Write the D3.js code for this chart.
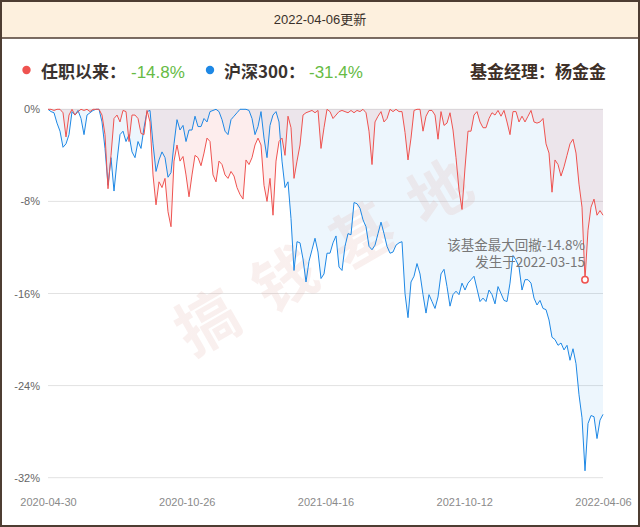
<!DOCTYPE html>
<html><head><meta charset="utf-8">
<script src="https://cdn.jsdelivr.net/npm/d3@7"></script>
<style>html,body{margin:0;padding:0;background:#fff;}svg{display:block;}</style>
</head><body>
<script>
// ---------- data ----------
const updateDate = "2022-04-06";
const managerLabel = "基金经理：杨金金";
const seriesNames = ["任职以来：", "沪深300："];
const xTickLabels = ["2020-04-30", "2020-10-26", "2021-04-16", "2021-10-12", "2022-04-06"];
const yTickValues = [0, -8, -16, -24, -32];
const maxDrawdownDate = "2022-03-15";
const watermarkChars = ["搞", "钱", "基", "地"];

// fund drawdown since manager took office (%), sampled evenly in time
const fundDrawdown = [
  0, 0, -0.1, 0, 0, -0.3, -2.4, -0.5, 0, -0.5,
  -0.2, 0, -0.1, 0, -0.2, 0, 0, 0, -0.5, -2.2,
  -6.9, -4.0, -0.8, -0.5, -1.1, -0.1, -0.2, -2.8, -0.5, -0.5,
  -0.8, -2.1, -2.2, -0.1, -1.1, -5.7, -8.3, -6.3, -6.8, -6.0,
  -8.9, -10.2, -4.5, -3.1, -4.5, -4.1, -5.7, -7.6, -5.7, -4.0,
  -4.2, -4.9, -3.8, -2.5, -2.8, -5.7, -6.3, -4.5, -4.8, -5.7,
  -6.0, -5.4, -5.8, -6.8, -7.4, -7.8, -4.4, -4.8, -4.2, -3.1,
  -2.5, -3.1, -6.6, -8.0, -6.0, -9.2, -4.5, -2.8, -2.5, -4.0,
  -0.6, -1.6, -6.0, -4.5, -3.1, -0.5, -0.3, -0.2, -0.1, -0.3,
  -0.1, -3.4, -1.6, 0, -0.2, -0.8, -0.5, -0.2, -0.1, -0.2,
  -0.3, -0.1, -0.3, -0.1, -0.2, 0, -0.3, -1.9, -4.8, -1.1,
  -0.6, -0.2, -1.1, -0.8, 0, -0.2, 0, -0.2, -0.2, -2.0,
  -4.4, -2.5, -0.1, 0, 0, -1.9, -0.6, -0.1, -0.1, -0.5,
  -2.6, -0.2, -1.4, -1.2, -0.3, -1.8, -4.2, -7.0, -8.7, -5.1,
  -1.9, -1.9, -0.5, -0.2, -1.1, -1.6, -1.6, -0.8, -0.3, -0.5,
  -0.1, -0.6, -0.1, -1.1, -2.2, -0.2, -0.2, -1.1, -0.6, -1.1,
  -0.6, -0.1, -1.1, -1.2, -1.1, -0.8, -3.0, -3.8, -7.2, -4.4,
  -4.8, -5.8, -5.0, -4.0, -3.0, -2.6, -3.8, -6.5, -8.5, -14.8,
  -10.5, -8.5, -7.8, -9.2, -8.8, -9.2
];

// CSI 300 drawdown over the same period (%)
const csi300Drawdown = [
  0, -0.2, -0.3, -1.2, -1.9, -3.3, -3.0, -2.2, -0.2, -0.5,
  -0.1, -0.8, -2.2, -0.5, -0.3, -0.1, 0, 0, -1.1, -3.4,
  -6.6, -4.2, -7.1, -4.5, -2.2, -1.9, -2.8, -2.2, -3.7, -4.2,
  -2.8, -3.4, -1.6, -0.2, -0.1, -3.0, -5.4, -4.4, -3.7, -4.2,
  -5.9, -5.5, -3.0, -0.9, -1.8, -1.4, -2.8, -1.8, -1.8, -0.6,
  -1.5, -1.5, -0.8, -1.1, -0.2, -0.1, 0, -0.2, -0.9, -1.9,
  -2.2, -0.9, -0.6, -0.3, 0, 0, 0, -0.1, -0.8, -2.2,
  -1.5, -0.2, -2.5, -4.2, -1.4, -0.5, -0.2, -1.1, -4.5, -6.8,
  -6.3, -9.5, -14.0, -11.5, -11.6, -13.0, -15.0, -13.2, -12.2, -11.2,
  -12.4, -14.7, -14.3, -12.5, -12.5, -11.6, -11.0, -13.7, -14.0, -11.9,
  -10.8, -10.9, -8.1, -8.2, -8.6, -9.6, -10.2, -11.9, -12.2, -11.8,
  -10.8, -9.8, -10.8, -11.9, -12.5, -12.4, -11.8, -11.6, -11.5, -16.0,
  -18.1, -15.0, -14.5, -13.4, -14.3, -16.1, -17.7, -16.1, -16.7, -17.3,
  -16.3, -14.3, -13.9, -15.4, -17.1, -16.1, -15.8, -16.1, -15.1, -15.7,
  -15.1, -14.8, -14.5, -15.6, -16.7, -16.4, -16.7, -15.7, -16.1, -16.9,
  -15.4, -16.0, -16.6, -16.7, -15.1, -12.7, -13.1, -13.7, -15.7, -14.8,
  -14.8, -15.1, -16.4, -17.0, -16.6, -17.3, -17.4, -18.3, -19.8, -20.0,
  -20.5, -20.3, -20.9, -20.5, -21.8, -20.8, -22.1, -24.8, -26.8, -31.4,
  -27.3, -26.6, -26.7, -28.6, -27.0, -26.5
];

// ---------- layout / style ----------
const W = 640, H = 527;
const plot = {left: 48, right: 603, top: 109.3, bottom: 477.7};
const RED = "#ef5350", BLUE = "#1e88e5", GREEN = "#66bb44";
const BORDER = "#4e3d32";
const CJK = "'Noto Sans CJK SC','Noto Sans',sans-serif";
const LAT = "'Liberation Sans','Noto Sans CJK SC',sans-serif";

const svg = d3.select("body").append("svg").attr("width", W).attr("height", H);

svg.append("rect").attr("width", W).attr("height", H).attr("fill", "#fff");
// header
svg.append("rect").attr("x", 0).attr("y", 0).attr("width", W).attr("height", 38).attr("fill", "#fdf0de");
svg.append("line").attr("x1", 0).attr("x2", W).attr("y1", 38).attr("y2", 38).attr("stroke", BORDER).attr("stroke-width", 1.5);
svg.append("text").attr("x", W / 2).attr("y", 19).attr("dy", "0.35em").attr("text-anchor", "middle")
  .attr("font-family", LAT).attr("font-size", 13).attr("fill", "#3a302a").text(updateDate + "更新");

// scales
const n = fundDrawdown.length;
const x = d3.scaleLinear().domain([0, n - 1]).range([plot.left, plot.right]);
const y = d3.scaleLinear().domain([-32, 0]).range([plot.bottom, plot.top]);

// grid
const g = svg.append("g");
g.selectAll("line.grid").data(yTickValues).join("line")
  .attr("x1", plot.left).attr("x2", plot.right)
  .attr("y1", d => y(d)).attr("y2", d => y(d))
  .attr("stroke", "#e2e2e2").attr("stroke-width", 1);

// y axis labels
const yAxis = d3.axisLeft(y).tickValues(yTickValues).tickSize(0).tickPadding(0).tickFormat(d => d + "%");
const ya = svg.append("g").attr("transform", `translate(40,0)`).call(yAxis);
ya.select(".domain").remove();
ya.selectAll("text").attr("font-family", LAT).attr("font-size", 11).attr("fill", "#666");

// x axis labels
const tickIdx = xTickLabels.map((d, i) => i * (n - 1) / (xTickLabels.length - 1));
const xAxis = d3.axisBottom(x).tickValues(tickIdx).tickSize(0).tickPadding(0)
  .tickFormat((d, i) => xTickLabels[i]);
const xa = svg.append("g").attr("transform", `translate(0,498)`).call(xAxis);
xa.select(".domain").remove();
xa.selectAll("text").attr("font-family", LAT).attr("font-size", 11).attr("fill", "#8a8a8a");

// areas
const area = d3.area().x((d, i) => x(i)).y0(y(0)).y1(d => y(d));
svg.append("path").datum(csi300Drawdown).attr("d", area).attr("fill", BLUE).attr("fill-opacity", 0.08);
svg.append("path").datum(fundDrawdown).attr("d", area).attr("fill", RED).attr("fill-opacity", 0.1);

// watermark
const defs = svg.append("defs");
const grad = defs.append("linearGradient").attr("id", "wm").attr("gradientUnits", "userSpaceOnUse")
  .attr("x1", 170).attr("y1", 0).attr("x2", 480).attr("y2", 0);
grad.append("stop").attr("offset", 0).attr("stop-color", "#dca49c").attr("stop-opacity", 0.17);
grad.append("stop").attr("offset", 0.5).attr("stop-color", "#c8aca4").attr("stop-opacity", 0.16);
grad.append("stop").attr("offset", 1).attr("stop-color", "#9c9ca4").attr("stop-opacity", 0.16);
const wmStart = [208, 323], wmEnd = [440, 193];
svg.append("g").selectAll("text").data(watermarkChars).join("text")
  .attr("transform", (d, i) => {
    const t = i / (watermarkChars.length - 1);
    const cx = wmStart[0] + (wmEnd[0] - wmStart[0]) * t;
    const cy = wmStart[1] + (wmEnd[1] - wmStart[1]) * t;
    return `translate(${cx},${cy}) rotate(-30)`;
  })
  .attr("text-anchor", "middle").attr("dy", "0.35em")
  .attr("font-family", CJK).attr("font-weight", "bold").attr("font-size", 62)
  .attr("fill", "url(#wm)").text(d => d);

// lines
const line = d3.line().x((d, i) => x(i)).y(d => y(d));
svg.append("path").datum(csi300Drawdown).attr("d", line).attr("fill", "none").attr("stroke", BLUE).attr("stroke-width", 1).attr("stroke-linejoin", "round");
svg.append("path").datum(fundDrawdown).attr("d", line).attr("fill", "none").attr("stroke", RED).attr("stroke-width", 1).attr("stroke-linejoin", "round");

// max drawdown marker + annotation
const fundMin = d3.min(fundDrawdown);
const fundMinIdx = fundDrawdown.indexOf(fundMin);
const csiMin = d3.min(csi300Drawdown);
svg.append("circle").attr("cx", x(fundMinIdx)).attr("cy", y(fundMin)).attr("r", 3.2)
  .attr("fill", "#fff").attr("stroke", RED).attr("stroke-width", 1.5);
const ann = svg.append("g").attr("font-family", CJK).attr("font-size", 13.5).attr("fill", "#777").attr("text-anchor", "end");
ann.append("text").attr("x", x(fundMinIdx)).attr("y", 245).attr("dy", "0.35em").text("该基金最大回撤" + fundMin.toFixed(1) + "%");
ann.append("text").attr("x", x(fundMinIdx)).attr("y", 262).attr("dy", "0.35em").text("发生于" + maxDrawdownDate);

// legend
const leg = svg.append("g");
const legItems = [
  {name: seriesNames[0], value: fundMin, color: RED, dot: 26.5, lx: 41, vx: 131},
  {name: seriesNames[1], value: csiMin, color: BLUE, dot: 210, lx: 224, vx: 309}
];
legItems.forEach(it => {
  leg.append("circle").attr("cx", it.dot).attr("cy", 70).attr("r", 4.2).attr("fill", it.color);
  leg.append("text").attr("x", it.lx).attr("y", 72).attr("dy", "0.35em")
    .attr("font-family", CJK).attr("font-weight", "bold").attr("font-size", 17).attr("fill", "#3a3330").text(it.name);
  leg.append("text").attr("x", it.vx).attr("y", 72).attr("dy", "0.35em")
    .attr("font-family", "'Liberation Sans Narrow','Liberation Sans',sans-serif").attr("font-size", 17).attr("fill", GREEN)
    .text(it.value.toFixed(1) + "%");
});
leg.append("text").attr("x", 606).attr("y", 72).attr("dy", "0.35em").attr("text-anchor", "end")
  .attr("font-family", CJK).attr("font-weight", "bold").attr("font-size", 17).attr("fill", "#3d2f27").text(managerLabel);

// outer frame
svg.append("rect").attr("x", 1).attr("y", 1).attr("width", W - 2).attr("height", H - 2)
  .attr("fill", "none").attr("stroke", BORDER).attr("stroke-width", 2);
</script>
</body></html>
